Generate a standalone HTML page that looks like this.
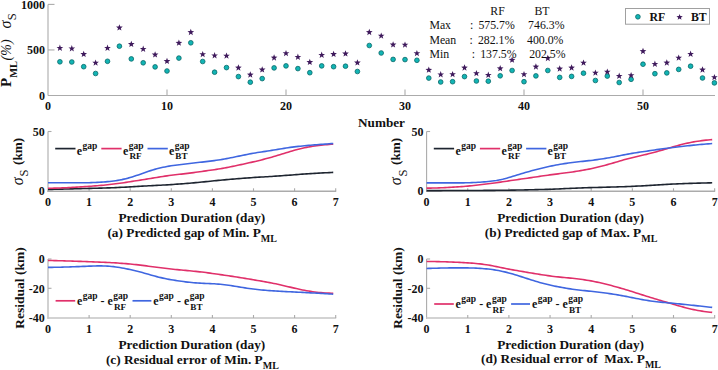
<!DOCTYPE html>
<html><head><meta charset="utf-8"><style>
html,body{margin:0;padding:0;background:#fff;width:718px;height:370px;overflow:hidden}
svg{display:block}
text{fill:#111;white-space:pre}
</style></head><body>
<svg width="718" height="370" viewBox="0 0 718 370"><line x1="48.0" y1="4.4" x2="48.0" y2="95.5" stroke="#ababab" stroke-width="1.1"/>
<line x1="48.0" y1="95.5" x2="715" y2="95.5" stroke="#ababab" stroke-width="1.1"/>
<line x1="48.0" y1="49.95" x2="54.5" y2="49.95" stroke="#ababab" stroke-width="1.1"/>
<line x1="48.0" y1="4.40" x2="54.5" y2="4.40" stroke="#ababab" stroke-width="1.1"/>
<line x1="167.00" y1="89.5" x2="167.00" y2="95.5" stroke="#ababab" stroke-width="1.1"/>
<line x1="286.00" y1="89.5" x2="286.00" y2="95.5" stroke="#ababab" stroke-width="1.1"/>
<line x1="405.00" y1="89.5" x2="405.00" y2="95.5" stroke="#ababab" stroke-width="1.1"/>
<line x1="524.00" y1="89.5" x2="524.00" y2="95.5" stroke="#ababab" stroke-width="1.1"/>
<line x1="643.00" y1="89.5" x2="643.00" y2="95.5" stroke="#ababab" stroke-width="1.1"/>
<text x="45" y="99.70" text-anchor="end" font-family="Liberation Serif" font-weight="bold" font-size="12">0</text>
<text x="45" y="54.15" text-anchor="end" font-family="Liberation Serif" font-weight="bold" font-size="12">500</text>
<text x="45" y="8.60" text-anchor="end" font-family="Liberation Serif" font-weight="bold" font-size="12">1000</text>
<text x="48.00" y="110.3" text-anchor="middle" font-family="Liberation Serif" font-weight="bold" font-size="12">0</text>
<text x="167.00" y="110.3" text-anchor="middle" font-family="Liberation Serif" font-weight="bold" font-size="12">10</text>
<text x="286.00" y="110.3" text-anchor="middle" font-family="Liberation Serif" font-weight="bold" font-size="12">20</text>
<text x="405.00" y="110.3" text-anchor="middle" font-family="Liberation Serif" font-weight="bold" font-size="12">30</text>
<text x="524.00" y="110.3" text-anchor="middle" font-family="Liberation Serif" font-weight="bold" font-size="12">40</text>
<text x="643.00" y="110.3" text-anchor="middle" font-family="Liberation Serif" font-weight="bold" font-size="12">50</text>
<text x="381.5" y="126.5" text-anchor="middle" font-family="Liberation Serif" font-weight="bold" font-size="13.2">Number</text>
<circle cx="59.90" cy="61.8" r="2.35" fill="#12b4b4" stroke="#086868" stroke-width="0.8"/>
<polygon points="59.90,44.60 60.76,46.91 63.23,47.02 61.30,48.55 61.96,50.93 59.90,49.57 57.84,50.93 58.50,48.55 56.57,47.02 59.04,46.91" fill="#3f1a5c"/>
<circle cx="71.80" cy="62.0" r="2.35" fill="#12b4b4" stroke="#086868" stroke-width="0.8"/>
<polygon points="71.80,45.10 72.66,47.41 75.13,47.52 73.20,49.05 73.86,51.43 71.80,50.07 69.74,51.43 70.40,49.05 68.47,47.52 70.94,47.41" fill="#3f1a5c"/>
<circle cx="83.70" cy="66.7" r="2.35" fill="#12b4b4" stroke="#086868" stroke-width="0.8"/>
<polygon points="83.70,50.70 84.56,53.01 87.03,53.12 85.10,54.65 85.76,57.03 83.70,55.67 81.64,57.03 82.30,54.65 80.37,53.12 82.84,53.01" fill="#3f1a5c"/>
<circle cx="95.60" cy="73.5" r="2.35" fill="#12b4b4" stroke="#086868" stroke-width="0.8"/>
<polygon points="95.60,59.40 96.46,61.71 98.93,61.82 97.00,63.35 97.66,65.73 95.60,64.37 93.54,65.73 94.20,63.35 92.27,61.82 94.74,61.71" fill="#3f1a5c"/>
<circle cx="107.50" cy="61.3" r="2.35" fill="#12b4b4" stroke="#086868" stroke-width="0.8"/>
<polygon points="107.50,44.60 108.36,46.91 110.83,47.02 108.90,48.55 109.56,50.93 107.50,49.57 105.44,50.93 106.10,48.55 104.17,47.02 106.64,46.91" fill="#3f1a5c"/>
<circle cx="119.40" cy="46.2" r="2.35" fill="#12b4b4" stroke="#086868" stroke-width="0.8"/>
<polygon points="119.40,24.20 120.26,26.51 122.73,26.62 120.80,28.15 121.46,30.53 119.40,29.17 117.34,30.53 118.00,28.15 116.07,26.62 118.54,26.51" fill="#3f1a5c"/>
<circle cx="131.30" cy="58.9" r="2.35" fill="#12b4b4" stroke="#086868" stroke-width="0.8"/>
<polygon points="131.30,40.70 132.16,43.01 134.63,43.12 132.70,44.65 133.36,47.03 131.30,45.67 129.24,47.03 129.90,44.65 127.97,43.12 130.44,43.01" fill="#3f1a5c"/>
<circle cx="143.20" cy="62.8" r="2.35" fill="#12b4b4" stroke="#086868" stroke-width="0.8"/>
<polygon points="143.20,45.60 144.06,47.91 146.53,48.02 144.60,49.55 145.26,51.93 143.20,50.57 141.14,51.93 141.80,49.55 139.87,48.02 142.34,47.91" fill="#3f1a5c"/>
<circle cx="155.10" cy="66.9" r="2.35" fill="#12b4b4" stroke="#086868" stroke-width="0.8"/>
<polygon points="155.10,51.20 155.96,53.51 158.43,53.62 156.50,55.15 157.16,57.53 155.10,56.17 153.04,57.53 153.70,55.15 151.77,53.62 154.24,53.51" fill="#3f1a5c"/>
<circle cx="167.00" cy="71.0" r="2.35" fill="#12b4b4" stroke="#086868" stroke-width="0.8"/>
<polygon points="167.00,57.70 167.86,60.01 170.33,60.12 168.40,61.65 169.06,64.03 167.00,62.67 164.94,64.03 165.60,61.65 163.67,60.12 166.14,60.01" fill="#3f1a5c"/>
<circle cx="178.90" cy="58.1" r="2.35" fill="#12b4b4" stroke="#086868" stroke-width="0.8"/>
<polygon points="178.90,39.50 179.76,41.81 182.23,41.92 180.30,43.45 180.96,45.83 178.90,44.47 176.84,45.83 177.50,43.45 175.57,41.92 178.04,41.81" fill="#3f1a5c"/>
<circle cx="190.80" cy="42.8" r="2.35" fill="#12b4b4" stroke="#086868" stroke-width="0.8"/>
<polygon points="190.80,28.80 191.66,31.11 194.13,31.22 192.20,32.75 192.86,35.13 190.80,33.77 188.74,35.13 189.40,32.75 187.47,31.22 189.94,31.11" fill="#3f1a5c"/>
<circle cx="202.70" cy="61.5" r="2.35" fill="#12b4b4" stroke="#086868" stroke-width="0.8"/>
<polygon points="202.70,50.90 203.56,53.21 206.03,53.32 204.10,54.85 204.76,57.23 202.70,55.87 200.64,57.23 201.30,54.85 199.37,53.32 201.84,53.21" fill="#3f1a5c"/>
<circle cx="214.60" cy="72.2" r="2.35" fill="#12b4b4" stroke="#086868" stroke-width="0.8"/>
<polygon points="214.60,52.10 215.46,54.41 217.93,54.52 216.00,56.05 216.66,58.43 214.60,57.07 212.54,58.43 213.20,56.05 211.27,54.52 213.74,54.41" fill="#3f1a5c"/>
<circle cx="226.50" cy="67.6" r="2.35" fill="#12b4b4" stroke="#086868" stroke-width="0.8"/>
<polygon points="226.50,52.40 227.36,54.71 229.83,54.82 227.90,56.35 228.56,58.73 226.50,57.37 224.44,58.73 225.10,56.35 223.17,54.82 225.64,54.71" fill="#3f1a5c"/>
<circle cx="238.40" cy="76.6" r="2.35" fill="#12b4b4" stroke="#086868" stroke-width="0.8"/>
<polygon points="238.40,64.30 239.26,66.61 241.73,66.72 239.80,68.25 240.46,70.63 238.40,69.27 236.34,70.63 237.00,68.25 235.07,66.72 237.54,66.61" fill="#3f1a5c"/>
<circle cx="250.30" cy="82.2" r="2.35" fill="#12b4b4" stroke="#086868" stroke-width="0.8"/>
<polygon points="250.30,71.30 251.16,73.61 253.63,73.72 251.70,75.25 252.36,77.63 250.30,76.27 248.24,77.63 248.90,75.25 246.97,73.72 249.44,73.61" fill="#3f1a5c"/>
<circle cx="262.20" cy="78.6" r="2.35" fill="#12b4b4" stroke="#086868" stroke-width="0.8"/>
<polygon points="262.20,66.20 263.06,68.51 265.53,68.62 263.60,70.15 264.26,72.53 262.20,71.17 260.14,72.53 260.80,70.15 258.87,68.62 261.34,68.51" fill="#3f1a5c"/>
<circle cx="274.10" cy="67.9" r="2.35" fill="#12b4b4" stroke="#086868" stroke-width="0.8"/>
<polygon points="274.10,54.30 274.96,56.61 277.43,56.72 275.50,58.25 276.16,60.63 274.10,59.27 272.04,60.63 272.70,58.25 270.77,56.72 273.24,56.61" fill="#3f1a5c"/>
<circle cx="286.00" cy="65.9" r="2.35" fill="#12b4b4" stroke="#086868" stroke-width="0.8"/>
<polygon points="286.00,49.90 286.86,52.21 289.33,52.32 287.40,53.85 288.06,56.23 286.00,54.87 283.94,56.23 284.60,53.85 282.67,52.32 285.14,52.21" fill="#3f1a5c"/>
<circle cx="297.90" cy="68.6" r="2.35" fill="#12b4b4" stroke="#086868" stroke-width="0.8"/>
<polygon points="297.90,53.60 298.76,55.91 301.23,56.02 299.30,57.55 299.96,59.93 297.90,58.57 295.84,59.93 296.50,57.55 294.57,56.02 297.04,55.91" fill="#3f1a5c"/>
<circle cx="309.80" cy="72.7" r="2.35" fill="#12b4b4" stroke="#086868" stroke-width="0.8"/>
<polygon points="309.80,58.70 310.66,61.01 313.13,61.12 311.20,62.65 311.86,65.03 309.80,63.67 307.74,65.03 308.40,62.65 306.47,61.12 308.94,61.01" fill="#3f1a5c"/>
<circle cx="321.70" cy="65.9" r="2.35" fill="#12b4b4" stroke="#086868" stroke-width="0.8"/>
<polygon points="321.70,51.60 322.56,53.91 325.03,54.02 323.10,55.55 323.76,57.93 321.70,56.57 319.64,57.93 320.30,55.55 318.37,54.02 320.84,53.91" fill="#3f1a5c"/>
<circle cx="333.60" cy="66.7" r="2.35" fill="#12b4b4" stroke="#086868" stroke-width="0.8"/>
<polygon points="333.60,50.70 334.46,53.01 336.93,53.12 335.00,54.65 335.66,57.03 333.60,55.67 331.54,57.03 332.20,54.65 330.27,53.12 332.74,53.01" fill="#3f1a5c"/>
<circle cx="345.50" cy="66.2" r="2.35" fill="#12b4b4" stroke="#086868" stroke-width="0.8"/>
<polygon points="345.50,50.20 346.36,52.51 348.83,52.62 346.90,54.15 347.56,56.53 345.50,55.17 343.44,56.53 344.10,54.15 342.17,52.62 344.64,52.51" fill="#3f1a5c"/>
<circle cx="357.40" cy="71.5" r="2.35" fill="#12b4b4" stroke="#086868" stroke-width="0.8"/>
<polygon points="357.40,59.20 358.26,61.51 360.73,61.62 358.80,63.15 359.46,65.53 357.40,64.17 355.34,65.53 356.00,63.15 354.07,61.62 356.54,61.51" fill="#3f1a5c"/>
<circle cx="369.30" cy="45.5" r="2.35" fill="#12b4b4" stroke="#086868" stroke-width="0.8"/>
<polygon points="369.30,28.80 370.16,31.11 372.63,31.22 370.70,32.75 371.36,35.13 369.30,33.77 367.24,35.13 367.90,32.75 365.97,31.22 368.44,31.11" fill="#3f1a5c"/>
<circle cx="381.20" cy="53.0" r="2.35" fill="#12b4b4" stroke="#086868" stroke-width="0.8"/>
<polygon points="381.20,32.40 382.06,34.71 384.53,34.82 382.60,36.35 383.26,38.73 381.20,37.37 379.14,38.73 379.80,36.35 377.87,34.82 380.34,34.71" fill="#3f1a5c"/>
<circle cx="393.10" cy="59.4" r="2.35" fill="#12b4b4" stroke="#086868" stroke-width="0.8"/>
<polygon points="393.10,41.20 393.96,43.51 396.43,43.62 394.50,45.15 395.16,47.53 393.10,46.17 391.04,47.53 391.70,45.15 389.77,43.62 392.24,43.51" fill="#3f1a5c"/>
<circle cx="405.00" cy="59.6" r="2.35" fill="#12b4b4" stroke="#086868" stroke-width="0.8"/>
<polygon points="405.00,41.40 405.86,43.71 408.33,43.82 406.40,45.35 407.06,47.73 405.00,46.37 402.94,47.73 403.60,45.35 401.67,43.82 404.14,43.71" fill="#3f1a5c"/>
<circle cx="416.90" cy="60.3" r="2.35" fill="#12b4b4" stroke="#086868" stroke-width="0.8"/>
<polygon points="416.90,49.90 417.76,52.21 420.23,52.32 418.30,53.85 418.96,56.23 416.90,54.87 414.84,56.23 415.50,53.85 413.57,52.32 416.04,52.21" fill="#3f1a5c"/>
<circle cx="428.80" cy="78.1" r="2.35" fill="#12b4b4" stroke="#086868" stroke-width="0.8"/>
<polygon points="428.80,66.50 429.66,68.81 432.13,68.92 430.20,70.45 430.86,72.83 428.80,71.47 426.74,72.83 427.40,70.45 425.47,68.92 427.94,68.81" fill="#3f1a5c"/>
<circle cx="440.70" cy="82.0" r="2.35" fill="#12b4b4" stroke="#086868" stroke-width="0.8"/>
<polygon points="440.70,71.10 441.56,73.41 444.03,73.52 442.10,75.05 442.76,77.43 440.70,76.07 438.64,77.43 439.30,75.05 437.37,73.52 439.84,73.41" fill="#3f1a5c"/>
<circle cx="452.60" cy="81.7" r="2.35" fill="#12b4b4" stroke="#086868" stroke-width="0.8"/>
<polygon points="452.60,70.90 453.46,73.21 455.93,73.32 454.00,74.85 454.66,77.23 452.60,75.87 450.54,77.23 451.20,74.85 449.27,73.32 451.74,73.21" fill="#3f1a5c"/>
<circle cx="464.50" cy="76.6" r="2.35" fill="#12b4b4" stroke="#086868" stroke-width="0.8"/>
<polygon points="464.50,64.30 465.36,66.61 467.83,66.72 465.90,68.25 466.56,70.63 464.50,69.27 462.44,70.63 463.10,68.25 461.17,66.72 463.64,66.61" fill="#3f1a5c"/>
<circle cx="476.40" cy="81.0" r="2.35" fill="#12b4b4" stroke="#086868" stroke-width="0.8"/>
<polygon points="476.40,69.90 477.26,72.21 479.73,72.32 477.80,73.85 478.46,76.23 476.40,74.87 474.34,76.23 475.00,73.85 473.07,72.32 475.54,72.21" fill="#3f1a5c"/>
<circle cx="488.30" cy="81.2" r="2.35" fill="#12b4b4" stroke="#086868" stroke-width="0.8"/>
<polygon points="488.30,71.60 489.16,73.91 491.63,74.02 489.70,75.55 490.36,77.93 488.30,76.57 486.24,77.93 486.90,75.55 484.97,74.02 487.44,73.91" fill="#3f1a5c"/>
<circle cx="500.20" cy="75.8" r="2.35" fill="#12b4b4" stroke="#086868" stroke-width="0.8"/>
<polygon points="500.20,65.00 501.06,67.31 503.53,67.42 501.60,68.95 502.26,71.33 500.20,69.97 498.14,71.33 498.80,68.95 496.87,67.42 499.34,67.31" fill="#3f1a5c"/>
<circle cx="512.10" cy="70.5" r="2.35" fill="#12b4b4" stroke="#086868" stroke-width="0.8"/>
<polygon points="512.10,56.50 512.96,58.81 515.43,58.92 513.50,60.45 514.16,62.83 512.10,61.47 510.04,62.83 510.70,60.45 508.77,58.92 511.24,58.81" fill="#3f1a5c"/>
<circle cx="524.00" cy="81.7" r="2.35" fill="#12b4b4" stroke="#086868" stroke-width="0.8"/>
<polygon points="524.00,70.90 524.86,73.21 527.33,73.32 525.40,74.85 526.06,77.23 524.00,75.87 521.94,77.23 522.60,74.85 520.67,73.32 523.14,73.21" fill="#3f1a5c"/>
<circle cx="535.90" cy="75.9" r="2.35" fill="#12b4b4" stroke="#086868" stroke-width="0.8"/>
<polygon points="535.90,63.30 536.76,65.61 539.23,65.72 537.30,67.25 537.96,69.63 535.90,68.27 533.84,69.63 534.50,67.25 532.57,65.72 535.04,65.61" fill="#3f1a5c"/>
<circle cx="547.80" cy="70.5" r="2.35" fill="#12b4b4" stroke="#086868" stroke-width="0.8"/>
<polygon points="547.80,54.80 548.66,57.11 551.13,57.22 549.20,58.75 549.86,61.13 547.80,59.77 545.74,61.13 546.40,58.75 544.47,57.22 546.94,57.11" fill="#3f1a5c"/>
<circle cx="559.70" cy="77.4" r="2.35" fill="#12b4b4" stroke="#086868" stroke-width="0.8"/>
<polygon points="559.70,65.30 560.56,67.61 563.03,67.72 561.10,69.25 561.76,71.63 559.70,70.27 557.64,71.63 558.30,69.25 556.37,67.72 558.84,67.61" fill="#3f1a5c"/>
<circle cx="571.60" cy="76.4" r="2.35" fill="#12b4b4" stroke="#086868" stroke-width="0.8"/>
<polygon points="571.60,64.30 572.46,66.61 574.93,66.72 573.00,68.25 573.66,70.63 571.60,69.27 569.54,70.63 570.20,68.25 568.27,66.72 570.74,66.61" fill="#3f1a5c"/>
<circle cx="583.50" cy="73.2" r="2.35" fill="#12b4b4" stroke="#086868" stroke-width="0.8"/>
<polygon points="583.50,59.40 584.36,61.71 586.83,61.82 584.90,63.35 585.56,65.73 583.50,64.37 581.44,65.73 582.10,63.35 580.17,61.82 582.64,61.71" fill="#3f1a5c"/>
<circle cx="595.40" cy="80.5" r="2.35" fill="#12b4b4" stroke="#086868" stroke-width="0.8"/>
<polygon points="595.40,69.40 596.26,71.71 598.73,71.82 596.80,73.35 597.46,75.73 595.40,74.37 593.34,75.73 594.00,73.35 592.07,71.82 594.54,71.71" fill="#3f1a5c"/>
<circle cx="607.30" cy="76.1" r="2.35" fill="#12b4b4" stroke="#086868" stroke-width="0.8"/>
<polygon points="607.30,68.40 608.16,70.71 610.63,70.82 608.70,72.35 609.36,74.73 607.30,73.37 605.24,74.73 605.90,72.35 603.97,70.82 606.44,70.71" fill="#3f1a5c"/>
<circle cx="619.20" cy="82.5" r="2.35" fill="#12b4b4" stroke="#086868" stroke-width="0.8"/>
<polygon points="619.20,72.60 620.06,74.91 622.53,75.02 620.60,76.55 621.26,78.93 619.20,77.57 617.14,78.93 617.80,76.55 615.87,75.02 618.34,74.91" fill="#3f1a5c"/>
<circle cx="631.10" cy="79.3" r="2.35" fill="#12b4b4" stroke="#086868" stroke-width="0.8"/>
<polygon points="631.10,71.90 631.96,74.21 634.43,74.32 632.50,75.85 633.16,78.23 631.10,76.87 629.04,78.23 629.70,75.85 627.77,74.32 630.24,74.21" fill="#3f1a5c"/>
<circle cx="643.00" cy="64.2" r="2.35" fill="#12b4b4" stroke="#086868" stroke-width="0.8"/>
<polygon points="643.00,47.80 643.86,50.11 646.33,50.22 644.40,51.75 645.06,54.13 643.00,52.77 640.94,54.13 641.60,51.75 639.67,50.22 642.14,50.11" fill="#3f1a5c"/>
<circle cx="654.90" cy="73.7" r="2.35" fill="#12b4b4" stroke="#086868" stroke-width="0.8"/>
<polygon points="654.90,60.60 655.76,62.91 658.23,63.02 656.30,64.55 656.96,66.93 654.90,65.57 652.84,66.93 653.50,64.55 651.57,63.02 654.04,62.91" fill="#3f1a5c"/>
<circle cx="666.80" cy="72.9" r="2.35" fill="#12b4b4" stroke="#086868" stroke-width="0.8"/>
<polygon points="666.80,59.30 667.66,61.61 670.13,61.72 668.20,63.25 668.86,65.63 666.80,64.27 664.74,65.63 665.40,63.25 663.47,61.72 665.94,61.61" fill="#3f1a5c"/>
<circle cx="678.70" cy="69.4" r="2.35" fill="#12b4b4" stroke="#086868" stroke-width="0.8"/>
<polygon points="678.70,54.40 679.56,56.71 682.03,56.82 680.10,58.35 680.76,60.73 678.70,59.37 676.64,60.73 677.30,58.35 675.37,56.82 677.84,56.71" fill="#3f1a5c"/>
<circle cx="690.60" cy="66.2" r="2.35" fill="#12b4b4" stroke="#086868" stroke-width="0.8"/>
<polygon points="690.60,50.60 691.46,52.91 693.93,53.02 692.00,54.55 692.66,56.93 690.60,55.57 688.54,56.93 689.20,54.55 687.27,53.02 689.74,52.91" fill="#3f1a5c"/>
<circle cx="702.50" cy="78.0" r="2.35" fill="#12b4b4" stroke="#086868" stroke-width="0.8"/>
<polygon points="702.50,66.30 703.36,68.61 705.83,68.72 703.90,70.25 704.56,72.63 702.50,71.27 700.44,72.63 701.10,70.25 699.17,68.72 701.64,68.61" fill="#3f1a5c"/>
<circle cx="714.40" cy="82.9" r="2.35" fill="#12b4b4" stroke="#086868" stroke-width="0.8"/>
<polygon points="714.40,73.90 715.26,76.21 717.73,76.32 715.80,77.85 716.46,80.23 714.40,78.87 712.34,80.23 713.00,77.85 711.07,76.32 713.54,76.21" fill="#3f1a5c"/>
<text transform="translate(11,87) rotate(-90)" font-family="Liberation Serif" font-size="15"><tspan font-weight="bold">P</tspan><tspan font-weight="bold" font-size="10.5" dy="6">ML</tspan><tspan dy="-6" dx="0.5" font-size="14" font-style="italic">(%)</tspan></text>
<text transform="translate(10.6,28.4) rotate(-90)" font-family="Liberation Serif" font-style="italic" font-size="16">σ</text>
<text transform="translate(16.0,20.2) rotate(-90)" font-family="Liberation Serif" font-size="12.5">S</text>
<text x="497.5" y="14.5" text-anchor="middle" font-family="Liberation Serif" font-size="11.8" fill="#111">RF</text>
<text x="542" y="14.5" text-anchor="middle" font-family="Liberation Serif" font-size="11.8" fill="#111">BT</text>
<text x="429.4" y="29.4" font-family="Liberation Serif" font-size="11.8" fill="#111">Max</text>
<text x="470.1" y="29.4" font-family="Liberation Serif" font-size="11.8" fill="#111">:</text>
<text x="478.4" y="29.4" font-family="Liberation Serif" font-size="11.8" fill="#111">575.7%</text>
<text x="528.1" y="29.4" font-family="Liberation Serif" font-size="11.8" fill="#111">746.3%</text>
<text x="429.4" y="43.5" font-family="Liberation Serif" font-size="11.8" fill="#111">Mean</text>
<text x="469.5" y="43.5" font-family="Liberation Serif" font-size="11.8" fill="#111">:</text>
<text x="477.9" y="43.5" font-family="Liberation Serif" font-size="11.8" fill="#111">282.1%</text>
<text x="527" y="43.5" font-family="Liberation Serif" font-size="11.8" fill="#111">400.0%</text>
<text x="429.4" y="57.5" font-family="Liberation Serif" font-size="11.8" fill="#111">Min</text>
<text x="471.7" y="57.5" font-family="Liberation Serif" font-size="11.8" fill="#111">:</text>
<text x="480.2" y="57.5" font-family="Liberation Serif" font-size="11.8" fill="#111">137.5%</text>
<text x="529.2" y="57.5" font-family="Liberation Serif" font-size="11.8" fill="#111">202.5%</text>
<rect x="625.5" y="8.5" width="84" height="15.7" fill="#fff" stroke="#a0a0a0" stroke-width="1"/>
<circle cx="637.9" cy="16.8" r="2.35" fill="#12b4b4" stroke="#086868" stroke-width="0.8"/>
<text x="649.5" y="20.8" font-family="Liberation Serif" font-weight="bold" font-size="11.8">RF</text>
<polygon points="679.60,13.90 680.41,16.08 682.74,16.18 680.92,17.63 681.54,19.87 679.60,18.59 677.66,19.87 678.28,17.63 676.46,16.18 678.79,16.08" fill="#3f1a5c"/>
<text x="691" y="20.8" font-family="Liberation Serif" font-weight="bold" font-size="11.8">BT</text>
<line x1="48" y1="131.5" x2="48" y2="192.00" stroke="#ababab" stroke-width="1.1"/>
<line x1="47.45" y1="191.3" x2="336.20" y2="191.3" stroke="#ababab" stroke-width="1.4"/>
<line x1="48" y1="131.5" x2="51.5" y2="131.5" stroke="#ababab" stroke-width="1.1"/>
<text x="44.8" y="135.70" text-anchor="end" font-family="Liberation Serif" font-weight="bold" font-size="12">50</text>
<text x="44.8" y="195.00" text-anchor="end" font-family="Liberation Serif" font-weight="bold" font-size="12">0</text>
<text x="48.00" y="206.30" text-anchor="middle" font-family="Liberation Serif" font-weight="bold" font-size="12">0</text>
<line x1="89.10" y1="188.3" x2="89.10" y2="191.3" stroke="#ababab" stroke-width="1.1"/>
<text x="89.10" y="206.30" text-anchor="middle" font-family="Liberation Serif" font-weight="bold" font-size="12">1</text>
<line x1="130.20" y1="188.3" x2="130.20" y2="191.3" stroke="#ababab" stroke-width="1.1"/>
<text x="130.20" y="206.30" text-anchor="middle" font-family="Liberation Serif" font-weight="bold" font-size="12">2</text>
<line x1="171.30" y1="188.3" x2="171.30" y2="191.3" stroke="#ababab" stroke-width="1.1"/>
<text x="171.30" y="206.30" text-anchor="middle" font-family="Liberation Serif" font-weight="bold" font-size="12">3</text>
<line x1="212.40" y1="188.3" x2="212.40" y2="191.3" stroke="#ababab" stroke-width="1.1"/>
<text x="212.40" y="206.30" text-anchor="middle" font-family="Liberation Serif" font-weight="bold" font-size="12">4</text>
<line x1="253.50" y1="188.3" x2="253.50" y2="191.3" stroke="#ababab" stroke-width="1.1"/>
<text x="253.50" y="206.30" text-anchor="middle" font-family="Liberation Serif" font-weight="bold" font-size="12">5</text>
<line x1="294.60" y1="188.3" x2="294.60" y2="191.3" stroke="#ababab" stroke-width="1.1"/>
<text x="294.60" y="206.30" text-anchor="middle" font-family="Liberation Serif" font-weight="bold" font-size="12">6</text>
<line x1="335.70" y1="188.3" x2="335.70" y2="191.3" stroke="#ababab" stroke-width="1.1"/>
<text x="335.70" y="206.30" text-anchor="middle" font-family="Liberation Serif" font-weight="bold" font-size="12">7</text>
<path d="M48.00,189.42 L50.05,189.39 L52.10,189.35 L54.16,189.31 L56.21,189.27 L58.26,189.22 L60.31,189.17 L62.36,189.12 L64.42,189.07 L66.47,189.02 L68.52,188.96 L70.57,188.91 L72.62,188.85 L74.68,188.80 L76.73,188.74 L78.78,188.68 L80.83,188.63 L82.88,188.57 L84.94,188.52 L86.99,188.46 L89.04,188.41 L91.09,188.35 L93.14,188.30 L95.20,188.25 L97.25,188.19 L99.30,188.14 L101.35,188.08 L103.41,188.02 L105.46,187.96 L107.51,187.90 L109.56,187.84 L111.61,187.76 L113.67,187.69 L115.72,187.60 L117.77,187.51 L119.82,187.41 L121.87,187.31 L123.93,187.20 L125.98,187.08 L128.03,186.96 L130.08,186.84 L132.13,186.72 L134.19,186.60 L136.24,186.48 L138.29,186.36 L140.34,186.25 L142.39,186.14 L144.45,186.03 L146.50,185.93 L148.55,185.82 L150.60,185.72 L152.65,185.61 L154.71,185.51 L156.76,185.40 L158.81,185.29 L160.86,185.18 L162.91,185.07 L164.97,184.95 L167.02,184.83 L169.07,184.70 L171.12,184.58 L173.17,184.45 L175.23,184.31 L177.28,184.17 L179.33,184.03 L181.38,183.88 L183.43,183.72 L185.49,183.56 L187.54,183.40 L189.59,183.23 L191.64,183.05 L193.70,182.86 L195.75,182.67 L197.80,182.48 L199.85,182.28 L201.90,182.07 L203.96,181.86 L206.01,181.65 L208.06,181.44 L210.11,181.22 L212.16,181.01 L214.22,180.81 L216.27,180.60 L218.32,180.40 L220.37,180.21 L222.42,180.02 L224.48,179.83 L226.53,179.64 L228.58,179.46 L230.63,179.29 L232.68,179.11 L234.74,178.94 L236.79,178.77 L238.84,178.60 L240.89,178.44 L242.94,178.28 L245.00,178.13 L247.05,177.98 L249.10,177.83 L251.15,177.69 L253.20,177.55 L255.26,177.42 L257.31,177.30 L259.36,177.17 L261.41,177.05 L263.46,176.93 L265.52,176.81 L267.57,176.69 L269.62,176.57 L271.67,176.43 L273.72,176.30 L275.78,176.16 L277.83,176.02 L279.88,175.87 L281.93,175.72 L283.98,175.56 L286.04,175.41 L288.09,175.25 L290.14,175.09 L292.19,174.93 L294.25,174.77 L296.30,174.62 L298.35,174.46 L300.40,174.31 L302.45,174.15 L304.51,174.01 L306.56,173.86 L308.61,173.72 L310.66,173.59 L312.71,173.46 L314.77,173.34 L316.82,173.22 L318.87,173.10 L320.92,172.99 L322.97,172.88 L325.03,172.78 L327.08,172.68 L329.13,172.58 L331.18,172.49 L333.23,172.40" fill="none" stroke="#1e2530" stroke-width="1.6" stroke-linejoin="round"/>
<path d="M48.00,188.30 L50.05,188.27 L52.10,188.22 L54.16,188.17 L56.21,188.11 L58.26,188.04 L60.31,187.96 L62.36,187.88 L64.42,187.79 L66.47,187.70 L68.52,187.60 L70.57,187.49 L72.62,187.38 L74.68,187.27 L76.73,187.15 L78.78,187.03 L80.83,186.90 L82.88,186.78 L84.94,186.64 L86.99,186.50 L89.04,186.36 L91.09,186.21 L93.14,186.06 L95.20,185.90 L97.25,185.73 L99.30,185.55 L101.35,185.37 L103.41,185.18 L105.46,184.98 L107.51,184.77 L109.56,184.55 L111.61,184.31 L113.67,184.07 L115.72,183.82 L117.77,183.55 L119.82,183.27 L121.87,182.98 L123.93,182.68 L125.98,182.37 L128.03,182.06 L130.08,181.73 L132.13,181.41 L134.19,181.08 L136.24,180.76 L138.29,180.43 L140.34,180.10 L142.39,179.77 L144.45,179.45 L146.50,179.12 L148.55,178.79 L150.60,178.45 L152.65,178.12 L154.71,177.78 L156.76,177.45 L158.81,177.11 L160.86,176.78 L162.91,176.46 L164.97,176.15 L167.02,175.85 L169.07,175.56 L171.12,175.29 L173.17,175.03 L175.23,174.78 L177.28,174.54 L179.33,174.31 L181.38,174.09 L183.43,173.86 L185.49,173.63 L187.54,173.39 L189.59,173.14 L191.64,172.87 L193.70,172.60 L195.75,172.31 L197.80,172.02 L199.85,171.73 L201.90,171.43 L203.96,171.14 L206.01,170.86 L208.06,170.58 L210.11,170.29 L212.16,170.00 L214.22,169.70 L216.27,169.39 L218.32,169.07 L220.37,168.72 L222.42,168.36 L224.48,167.99 L226.53,167.60 L228.58,167.19 L230.63,166.78 L232.68,166.36 L234.74,165.94 L236.79,165.51 L238.84,165.08 L240.89,164.64 L242.94,164.19 L245.00,163.75 L247.05,163.29 L249.10,162.83 L251.15,162.37 L253.20,161.89 L255.26,161.41 L257.31,160.92 L259.36,160.42 L261.41,159.91 L263.46,159.39 L265.52,158.85 L267.57,158.30 L269.62,157.74 L271.67,157.16 L273.72,156.56 L275.78,155.95 L277.83,155.33 L279.88,154.69 L281.93,154.05 L283.98,153.41 L286.04,152.78 L288.09,152.15 L290.14,151.53 L292.19,150.93 L294.25,150.34 L296.30,149.78 L298.35,149.24 L300.40,148.73 L302.45,148.25 L304.51,147.79 L306.56,147.36 L308.61,146.97 L310.66,146.60 L312.71,146.26 L314.77,145.95 L316.82,145.67 L318.87,145.41 L320.92,145.17 L322.97,144.96 L325.03,144.77 L327.08,144.60 L329.13,144.44 L331.18,144.31 L333.23,144.20" fill="none" stroke="#e0306a" stroke-width="1.6" stroke-linejoin="round"/>
<path d="M48.00,182.80 L50.05,182.80 L52.10,182.80 L54.16,182.80 L56.21,182.80 L58.26,182.80 L60.31,182.80 L62.36,182.80 L64.42,182.80 L66.47,182.80 L68.52,182.80 L70.57,182.80 L72.62,182.80 L74.68,182.80 L76.73,182.79 L78.78,182.79 L80.83,182.78 L82.88,182.77 L84.94,182.75 L86.99,182.72 L89.04,182.68 L91.09,182.63 L93.14,182.56 L95.20,182.48 L97.25,182.39 L99.30,182.27 L101.35,182.15 L103.41,182.00 L105.46,181.84 L107.51,181.65 L109.56,181.45 L111.61,181.23 L113.67,180.97 L115.72,180.68 L117.77,180.36 L119.82,180.00 L121.87,179.60 L123.93,179.15 L125.98,178.66 L128.03,178.13 L130.08,177.55 L132.13,176.94 L134.19,176.29 L136.24,175.61 L138.29,174.91 L140.34,174.19 L142.39,173.46 L144.45,172.72 L146.50,172.00 L148.55,171.30 L150.60,170.62 L152.65,169.98 L154.71,169.37 L156.76,168.81 L158.81,168.28 L160.86,167.79 L162.91,167.34 L164.97,166.91 L167.02,166.52 L169.07,166.16 L171.12,165.83 L173.17,165.51 L175.23,165.22 L177.28,164.94 L179.33,164.68 L181.38,164.44 L183.43,164.19 L185.49,163.96 L187.54,163.72 L189.59,163.49 L191.64,163.26 L193.70,163.02 L195.75,162.78 L197.80,162.55 L199.85,162.31 L201.90,162.08 L203.96,161.84 L206.01,161.61 L208.06,161.37 L210.11,161.12 L212.16,160.86 L214.22,160.59 L216.27,160.31 L218.32,160.01 L220.37,159.68 L222.42,159.34 L224.48,158.98 L226.53,158.61 L228.58,158.22 L230.63,157.82 L232.68,157.41 L234.74,156.99 L236.79,156.57 L238.84,156.14 L240.89,155.71 L242.94,155.28 L245.00,154.85 L247.05,154.44 L249.10,154.03 L251.15,153.65 L253.20,153.27 L255.26,152.92 L257.31,152.58 L259.36,152.26 L261.41,151.95 L263.46,151.64 L265.52,151.34 L267.57,151.03 L269.62,150.72 L271.67,150.39 L273.72,150.06 L275.78,149.73 L277.83,149.38 L279.88,149.03 L281.93,148.69 L283.98,148.35 L286.04,148.02 L288.09,147.70 L290.14,147.41 L292.19,147.13 L294.25,146.87 L296.30,146.62 L298.35,146.40 L300.40,146.18 L302.45,145.98 L304.51,145.79 L306.56,145.60 L308.61,145.42 L310.66,145.24 L312.71,145.07 L314.77,144.90 L316.82,144.73 L318.87,144.57 L320.92,144.40 L322.97,144.24 L325.03,144.09 L327.08,143.93 L329.13,143.78 L331.18,143.63 L333.23,143.48" fill="none" stroke="#3f66e0" stroke-width="1.6" stroke-linejoin="round"/>
<text x="191.85" y="222.10" text-anchor="middle" font-family="Liberation Serif" font-weight="bold" font-size="13.3">Prediction Duration (day)</text>
<text x="192.2" y="236.9" text-anchor="middle" font-family="Liberation Serif" font-weight="bold" font-size="13.3">(a) Predicted gap of Min. P<tspan font-size="10" dy="5">ML</tspan></text>
<text transform="translate(21.50,164.9) rotate(-90)" font-family="Liberation Serif" font-weight="bold" font-size="13.2">(km)</text><text transform="translate(22.60,185.2) rotate(-90)" font-family="Liberation Serif" font-style="italic" font-size="16">σ</text><text transform="translate(28.40,176.4) rotate(-90)" font-family="Liberation Serif" font-size="12.5">S</text>
<line x1="55.20" y1="148.6" x2="75.50" y2="148.6" stroke="#1e2530" stroke-width="1.7"/><text x="76.8" y="154.5" font-family="Liberation Serif" font-weight="bold" font-size="12">e</text><text x="82.60" y="148.80" font-family="Liberation Serif" font-weight="bold" font-size="9.5">gap</text><line x1="101.30" y1="148.6" x2="121.60" y2="148.6" stroke="#e0306a" stroke-width="1.7"/><text x="123.0" y="154.5" font-family="Liberation Serif" font-weight="bold" font-size="12">e</text><text x="128.80" y="148.80" font-family="Liberation Serif" font-weight="bold" font-size="9.5">gap</text><text x="129.40" y="159.30" font-family="Liberation Serif" font-weight="bold" font-size="9.2">RF</text><line x1="147.50" y1="148.6" x2="167.80" y2="148.6" stroke="#3f66e0" stroke-width="1.7"/><text x="168.9" y="154.5" font-family="Liberation Serif" font-weight="bold" font-size="12">e</text><text x="174.70" y="148.80" font-family="Liberation Serif" font-weight="bold" font-size="9.5">gap</text><text x="175.30" y="159.30" font-family="Liberation Serif" font-weight="bold" font-size="9.2">BT</text>
<line x1="426.6" y1="131.5" x2="426.6" y2="192.00" stroke="#ababab" stroke-width="1.1"/>
<line x1="426.05" y1="191.3" x2="715.15" y2="191.3" stroke="#ababab" stroke-width="1.4"/>
<line x1="426.6" y1="131.5" x2="430.1" y2="131.5" stroke="#ababab" stroke-width="1.1"/>
<text x="423.40000000000003" y="135.70" text-anchor="end" font-family="Liberation Serif" font-weight="bold" font-size="12">50</text>
<text x="423.40000000000003" y="195.00" text-anchor="end" font-family="Liberation Serif" font-weight="bold" font-size="12">0</text>
<text x="426.60" y="206.30" text-anchor="middle" font-family="Liberation Serif" font-weight="bold" font-size="12">0</text>
<line x1="467.75" y1="188.3" x2="467.75" y2="191.3" stroke="#ababab" stroke-width="1.1"/>
<text x="467.75" y="206.30" text-anchor="middle" font-family="Liberation Serif" font-weight="bold" font-size="12">1</text>
<line x1="508.90" y1="188.3" x2="508.90" y2="191.3" stroke="#ababab" stroke-width="1.1"/>
<text x="508.90" y="206.30" text-anchor="middle" font-family="Liberation Serif" font-weight="bold" font-size="12">2</text>
<line x1="550.05" y1="188.3" x2="550.05" y2="191.3" stroke="#ababab" stroke-width="1.1"/>
<text x="550.05" y="206.30" text-anchor="middle" font-family="Liberation Serif" font-weight="bold" font-size="12">3</text>
<line x1="591.20" y1="188.3" x2="591.20" y2="191.3" stroke="#ababab" stroke-width="1.1"/>
<text x="591.20" y="206.30" text-anchor="middle" font-family="Liberation Serif" font-weight="bold" font-size="12">4</text>
<line x1="632.35" y1="188.3" x2="632.35" y2="191.3" stroke="#ababab" stroke-width="1.1"/>
<text x="632.35" y="206.30" text-anchor="middle" font-family="Liberation Serif" font-weight="bold" font-size="12">5</text>
<line x1="673.50" y1="188.3" x2="673.50" y2="191.3" stroke="#ababab" stroke-width="1.1"/>
<text x="673.50" y="206.30" text-anchor="middle" font-family="Liberation Serif" font-weight="bold" font-size="12">6</text>
<line x1="714.65" y1="188.3" x2="714.65" y2="191.3" stroke="#ababab" stroke-width="1.1"/>
<text x="714.65" y="206.30" text-anchor="middle" font-family="Liberation Serif" font-weight="bold" font-size="12">7</text>
<path d="M426.60,190.60 L428.65,190.60 L430.71,190.59 L432.76,190.59 L434.82,190.59 L436.87,190.59 L438.93,190.58 L440.98,190.58 L443.04,190.57 L445.09,190.57 L447.15,190.56 L449.20,190.56 L451.25,190.55 L453.31,190.55 L455.36,190.54 L457.42,190.53 L459.47,190.53 L461.53,190.52 L463.58,190.51 L465.64,190.51 L467.69,190.50 L469.75,190.49 L471.80,190.48 L473.85,190.47 L475.91,190.46 L477.96,190.45 L480.02,190.44 L482.07,190.43 L484.13,190.41 L486.18,190.40 L488.24,190.39 L490.29,190.37 L492.35,190.36 L494.40,190.34 L496.45,190.32 L498.51,190.30 L500.56,190.28 L502.62,190.26 L504.67,190.24 L506.73,190.21 L508.78,190.18 L510.84,190.15 L512.89,190.12 L514.95,190.09 L517.00,190.06 L519.05,190.02 L521.11,189.98 L523.16,189.95 L525.22,189.90 L527.27,189.86 L529.33,189.82 L531.38,189.77 L533.44,189.72 L535.49,189.67 L537.55,189.62 L539.60,189.57 L541.65,189.52 L543.71,189.46 L545.76,189.40 L547.82,189.33 L549.87,189.26 L551.93,189.19 L553.98,189.11 L556.04,189.03 L558.09,188.94 L560.15,188.85 L562.20,188.76 L564.25,188.66 L566.31,188.56 L568.36,188.47 L570.42,188.37 L572.47,188.28 L574.53,188.19 L576.58,188.10 L578.64,188.02 L580.69,187.94 L582.75,187.87 L584.80,187.80 L586.85,187.74 L588.91,187.67 L590.96,187.61 L593.02,187.56 L595.07,187.50 L597.13,187.44 L599.18,187.39 L601.24,187.33 L603.29,187.28 L605.34,187.22 L607.40,187.17 L609.45,187.11 L611.51,187.06 L613.56,187.00 L615.62,186.94 L617.67,186.88 L619.73,186.82 L621.78,186.75 L623.84,186.68 L625.89,186.61 L627.94,186.53 L630.00,186.45 L632.05,186.36 L634.11,186.27 L636.16,186.17 L638.22,186.06 L640.27,185.95 L642.33,185.84 L644.38,185.72 L646.44,185.60 L648.49,185.48 L650.54,185.36 L652.60,185.23 L654.65,185.11 L656.71,184.98 L658.76,184.85 L660.82,184.73 L662.87,184.61 L664.93,184.49 L666.98,184.37 L669.04,184.27 L671.09,184.16 L673.14,184.06 L675.20,183.96 L677.25,183.87 L679.31,183.78 L681.36,183.70 L683.42,183.62 L685.47,183.54 L687.53,183.47 L689.58,183.40 L691.64,183.33 L693.69,183.26 L695.74,183.20 L697.80,183.14 L699.85,183.08 L701.91,183.03 L703.96,182.98 L706.02,182.94 L708.07,182.89 L710.13,182.85 L712.18,182.81" fill="none" stroke="#1e2530" stroke-width="1.6" stroke-linejoin="round"/>
<path d="M426.60,188.14 L428.65,188.12 L430.71,188.08 L432.76,188.04 L434.82,187.99 L436.87,187.93 L438.93,187.86 L440.98,187.79 L443.04,187.70 L445.09,187.61 L447.15,187.50 L449.20,187.39 L451.25,187.28 L453.31,187.15 L455.36,187.03 L457.42,186.89 L459.47,186.75 L461.53,186.60 L463.58,186.44 L465.64,186.28 L467.69,186.10 L469.75,185.91 L471.80,185.71 L473.85,185.50 L475.91,185.28 L477.96,185.05 L480.02,184.81 L482.07,184.57 L484.13,184.31 L486.18,184.06 L488.24,183.79 L490.29,183.53 L492.35,183.25 L494.40,182.98 L496.45,182.69 L498.51,182.40 L500.56,182.10 L502.62,181.80 L504.67,181.49 L506.73,181.18 L508.78,180.87 L510.84,180.57 L512.89,180.26 L514.95,179.96 L517.00,179.67 L519.05,179.37 L521.11,179.08 L523.16,178.78 L525.22,178.49 L527.27,178.20 L529.33,177.90 L531.38,177.60 L533.44,177.29 L535.49,176.99 L537.55,176.68 L539.60,176.38 L541.65,176.07 L543.71,175.77 L545.76,175.48 L547.82,175.19 L549.87,174.91 L551.93,174.63 L553.98,174.36 L556.04,174.10 L558.09,173.84 L560.15,173.58 L562.20,173.32 L564.25,173.06 L566.31,172.79 L568.36,172.52 L570.42,172.23 L572.47,171.94 L574.53,171.63 L576.58,171.32 L578.64,170.98 L580.69,170.64 L582.75,170.28 L584.80,169.91 L586.85,169.52 L588.91,169.11 L590.96,168.68 L593.02,168.24 L595.07,167.78 L597.13,167.29 L599.18,166.79 L601.24,166.28 L603.29,165.74 L605.34,165.20 L607.40,164.63 L609.45,164.06 L611.51,163.47 L613.56,162.87 L615.62,162.27 L617.67,161.66 L619.73,161.05 L621.78,160.45 L623.84,159.85 L625.89,159.28 L627.94,158.72 L630.00,158.18 L632.05,157.66 L634.11,157.17 L636.16,156.69 L638.22,156.23 L640.27,155.77 L642.33,155.30 L644.38,154.83 L646.44,154.35 L648.49,153.84 L650.54,153.32 L652.60,152.78 L654.65,152.22 L656.71,151.65 L658.76,151.06 L660.82,150.47 L662.87,149.87 L664.93,149.27 L666.98,148.66 L669.04,148.05 L671.09,147.45 L673.14,146.85 L675.20,146.26 L677.25,145.68 L679.31,145.13 L681.36,144.59 L683.42,144.08 L685.47,143.59 L687.53,143.13 L689.58,142.69 L691.64,142.28 L693.69,141.91 L695.74,141.55 L697.80,141.23 L699.85,140.93 L701.91,140.66 L703.96,140.40 L706.02,140.17 L708.07,139.96 L710.13,139.77 L712.18,139.59" fill="none" stroke="#e0306a" stroke-width="1.6" stroke-linejoin="round"/>
<path d="M426.60,182.90 L428.65,182.90 L430.71,182.90 L432.76,182.90 L434.82,182.90 L436.87,182.90 L438.93,182.90 L440.98,182.90 L443.04,182.90 L445.09,182.90 L447.15,182.90 L449.20,182.90 L451.25,182.90 L453.31,182.90 L455.36,182.89 L457.42,182.89 L459.47,182.88 L461.53,182.86 L463.58,182.84 L465.64,182.81 L467.69,182.76 L469.75,182.70 L471.80,182.63 L473.85,182.54 L475.91,182.43 L477.96,182.31 L480.02,182.18 L482.07,182.03 L484.13,181.86 L486.18,181.68 L488.24,181.49 L490.29,181.27 L492.35,181.03 L494.40,180.76 L496.45,180.45 L498.51,180.09 L500.56,179.68 L502.62,179.23 L504.67,178.73 L506.73,178.18 L508.78,177.60 L510.84,176.98 L512.89,176.35 L514.95,175.70 L517.00,175.06 L519.05,174.42 L521.11,173.79 L523.16,173.17 L525.22,172.57 L527.27,171.98 L529.33,171.41 L531.38,170.84 L533.44,170.29 L535.49,169.75 L537.55,169.22 L539.60,168.70 L541.65,168.19 L543.71,167.69 L545.76,167.21 L547.82,166.74 L549.87,166.29 L551.93,165.86 L553.98,165.45 L556.04,165.06 L558.09,164.68 L560.15,164.32 L562.20,163.98 L564.25,163.65 L566.31,163.34 L568.36,163.05 L570.42,162.77 L572.47,162.51 L574.53,162.26 L576.58,162.02 L578.64,161.79 L580.69,161.57 L582.75,161.35 L584.80,161.12 L586.85,160.90 L588.91,160.66 L590.96,160.42 L593.02,160.17 L595.07,159.90 L597.13,159.62 L599.18,159.33 L601.24,159.03 L603.29,158.71 L605.34,158.38 L607.40,158.04 L609.45,157.68 L611.51,157.31 L613.56,156.92 L615.62,156.52 L617.67,156.12 L619.73,155.71 L621.78,155.30 L623.84,154.89 L625.89,154.49 L627.94,154.10 L630.00,153.72 L632.05,153.36 L634.11,153.02 L636.16,152.70 L638.22,152.38 L640.27,152.07 L642.33,151.77 L644.38,151.47 L646.44,151.17 L648.49,150.86 L650.54,150.55 L652.60,150.24 L654.65,149.94 L656.71,149.63 L658.76,149.34 L660.82,149.05 L662.87,148.77 L664.93,148.49 L666.98,148.23 L669.04,147.97 L671.09,147.72 L673.14,147.47 L675.20,147.23 L677.25,146.98 L679.31,146.74 L681.36,146.51 L683.42,146.27 L685.47,146.04 L687.53,145.81 L689.58,145.58 L691.64,145.37 L693.69,145.15 L695.74,144.94 L697.80,144.74 L699.85,144.55 L701.91,144.37 L703.96,144.19 L706.02,144.01 L708.07,143.85 L710.13,143.68 L712.18,143.53" fill="none" stroke="#3f66e0" stroke-width="1.6" stroke-linejoin="round"/>
<text x="570.62" y="222.10" text-anchor="middle" font-family="Liberation Serif" font-weight="bold" font-size="13.3">Prediction Duration (day)</text>
<text x="571.1" y="236.8" text-anchor="middle" font-family="Liberation Serif" font-weight="bold" font-size="13.3">(b) Predicted gap of Max. P<tspan font-size="10" dy="5">ML</tspan></text>
<text transform="translate(400.10,164.9) rotate(-90)" font-family="Liberation Serif" font-weight="bold" font-size="13.2">(km)</text><text transform="translate(401.20,185.2) rotate(-90)" font-family="Liberation Serif" font-style="italic" font-size="16">σ</text><text transform="translate(407.00,176.4) rotate(-90)" font-family="Liberation Serif" font-size="12.5">S</text>
<line x1="433.80" y1="148.6" x2="454.10" y2="148.6" stroke="#1e2530" stroke-width="1.7"/><text x="455.40000000000003" y="154.5" font-family="Liberation Serif" font-weight="bold" font-size="12">e</text><text x="461.20" y="148.80" font-family="Liberation Serif" font-weight="bold" font-size="9.5">gap</text><line x1="479.90" y1="148.6" x2="500.20" y2="148.6" stroke="#e0306a" stroke-width="1.7"/><text x="501.6" y="154.5" font-family="Liberation Serif" font-weight="bold" font-size="12">e</text><text x="507.40" y="148.80" font-family="Liberation Serif" font-weight="bold" font-size="9.5">gap</text><text x="508.00" y="159.30" font-family="Liberation Serif" font-weight="bold" font-size="9.2">RF</text><line x1="526.10" y1="148.6" x2="546.40" y2="148.6" stroke="#3f66e0" stroke-width="1.7"/><text x="547.5" y="154.5" font-family="Liberation Serif" font-weight="bold" font-size="12">e</text><text x="553.30" y="148.80" font-family="Liberation Serif" font-weight="bold" font-size="9.5">gap</text><text x="553.90" y="159.30" font-family="Liberation Serif" font-weight="bold" font-size="9.2">BT</text>
<line x1="48" y1="259" x2="48" y2="318.85" stroke="#ababab" stroke-width="1.1"/>
<line x1="47.45" y1="318" x2="336.20" y2="318" stroke="#c4c4c4" stroke-width="1.7"/>
<line x1="48" y1="259" x2="51.5" y2="259" stroke="#ababab" stroke-width="1.1"/>
<text x="44.8" y="263.20" text-anchor="end" font-family="Liberation Serif" font-weight="bold" font-size="12">0</text>
<line x1="48" y1="288.3" x2="51.5" y2="288.3" stroke="#ababab" stroke-width="1.1"/>
<text x="44.8" y="292.50" text-anchor="end" font-family="Liberation Serif" font-weight="bold" font-size="12">-20</text>
<text x="44.8" y="321.70" text-anchor="end" font-family="Liberation Serif" font-weight="bold" font-size="12">-40</text>
<text x="48.00" y="333.00" text-anchor="middle" font-family="Liberation Serif" font-weight="bold" font-size="12">0</text>
<line x1="89.10" y1="315" x2="89.10" y2="318" stroke="#ababab" stroke-width="1.1"/>
<text x="89.10" y="333.00" text-anchor="middle" font-family="Liberation Serif" font-weight="bold" font-size="12">1</text>
<line x1="130.20" y1="315" x2="130.20" y2="318" stroke="#ababab" stroke-width="1.1"/>
<text x="130.20" y="333.00" text-anchor="middle" font-family="Liberation Serif" font-weight="bold" font-size="12">2</text>
<line x1="171.30" y1="315" x2="171.30" y2="318" stroke="#ababab" stroke-width="1.1"/>
<text x="171.30" y="333.00" text-anchor="middle" font-family="Liberation Serif" font-weight="bold" font-size="12">3</text>
<line x1="212.40" y1="315" x2="212.40" y2="318" stroke="#ababab" stroke-width="1.1"/>
<text x="212.40" y="333.00" text-anchor="middle" font-family="Liberation Serif" font-weight="bold" font-size="12">4</text>
<line x1="253.50" y1="315" x2="253.50" y2="318" stroke="#ababab" stroke-width="1.1"/>
<text x="253.50" y="333.00" text-anchor="middle" font-family="Liberation Serif" font-weight="bold" font-size="12">5</text>
<line x1="294.60" y1="315" x2="294.60" y2="318" stroke="#ababab" stroke-width="1.1"/>
<text x="294.60" y="333.00" text-anchor="middle" font-family="Liberation Serif" font-weight="bold" font-size="12">6</text>
<line x1="335.70" y1="315" x2="335.70" y2="318" stroke="#ababab" stroke-width="1.1"/>
<text x="335.70" y="333.00" text-anchor="middle" font-family="Liberation Serif" font-weight="bold" font-size="12">7</text>
<path d="M48.00,260.48 L50.05,260.52 L52.10,260.55 L54.16,260.59 L56.21,260.64 L58.26,260.69 L60.31,260.74 L62.36,260.80 L64.42,260.86 L66.47,260.93 L68.52,260.99 L70.57,261.06 L72.62,261.12 L74.68,261.19 L76.73,261.26 L78.78,261.33 L80.83,261.40 L82.88,261.48 L84.94,261.55 L86.99,261.63 L89.04,261.70 L91.09,261.78 L93.14,261.86 L95.20,261.94 L97.25,262.02 L99.30,262.11 L101.35,262.19 L103.41,262.28 L105.46,262.37 L107.51,262.47 L109.56,262.57 L111.61,262.68 L113.67,262.79 L115.72,262.91 L117.77,263.04 L119.82,263.18 L121.87,263.33 L123.93,263.48 L125.98,263.65 L128.03,263.83 L130.08,264.02 L132.13,264.22 L134.19,264.43 L136.24,264.65 L138.29,264.88 L140.34,265.13 L142.39,265.38 L144.45,265.64 L146.50,265.90 L148.55,266.18 L150.60,266.45 L152.65,266.73 L154.71,267.01 L156.76,267.28 L158.81,267.55 L160.86,267.81 L162.91,268.06 L164.97,268.31 L167.02,268.55 L169.07,268.78 L171.12,269.01 L173.17,269.23 L175.23,269.44 L177.28,269.65 L179.33,269.85 L181.38,270.04 L183.43,270.23 L185.49,270.42 L187.54,270.60 L189.59,270.79 L191.64,270.98 L193.70,271.18 L195.75,271.38 L197.80,271.60 L199.85,271.83 L201.90,272.07 L203.96,272.32 L206.01,272.58 L208.06,272.86 L210.11,273.14 L212.16,273.43 L214.22,273.72 L216.27,274.01 L218.32,274.31 L220.37,274.60 L222.42,274.90 L224.48,275.19 L226.53,275.49 L228.58,275.79 L230.63,276.10 L232.68,276.41 L234.74,276.72 L236.79,277.04 L238.84,277.37 L240.89,277.70 L242.94,278.04 L245.00,278.38 L247.05,278.72 L249.10,279.06 L251.15,279.40 L253.20,279.74 L255.26,280.09 L257.31,280.43 L259.36,280.77 L261.41,281.12 L263.46,281.47 L265.52,281.84 L267.57,282.21 L269.62,282.60 L271.67,283.00 L273.72,283.41 L275.78,283.84 L277.83,284.29 L279.88,284.74 L281.93,285.21 L283.98,285.69 L286.04,286.17 L288.09,286.66 L290.14,287.15 L292.19,287.63 L294.25,288.12 L296.30,288.59 L298.35,289.05 L300.40,289.49 L302.45,289.92 L304.51,290.33 L306.56,290.71 L308.61,291.07 L310.66,291.40 L312.71,291.70 L314.77,291.98 L316.82,292.22 L318.87,292.44 L320.92,292.63 L322.97,292.80 L325.03,292.94 L327.08,293.06 L329.13,293.16 L331.18,293.24 L333.23,293.30" fill="none" stroke="#e0306a" stroke-width="1.6" stroke-linejoin="round"/>
<path d="M48.00,267.42 L50.05,267.40 L52.10,267.36 L54.16,267.32 L56.21,267.28 L58.26,267.23 L60.31,267.18 L62.36,267.12 L64.42,267.06 L66.47,267.00 L68.52,266.93 L70.57,266.87 L72.62,266.80 L74.68,266.73 L76.73,266.65 L78.78,266.58 L80.83,266.50 L82.88,266.42 L84.94,266.34 L86.99,266.26 L89.04,266.17 L91.09,266.10 L93.14,266.03 L95.20,265.97 L97.25,265.92 L99.30,265.90 L101.35,265.90 L103.41,265.94 L105.46,266.00 L107.51,266.11 L109.56,266.25 L111.61,266.44 L113.67,266.67 L115.72,266.93 L117.77,267.23 L119.82,267.56 L121.87,267.92 L123.93,268.31 L125.98,268.71 L128.03,269.14 L130.08,269.58 L132.13,270.03 L134.19,270.50 L136.24,270.99 L138.29,271.50 L140.34,272.03 L142.39,272.58 L144.45,273.15 L146.50,273.74 L148.55,274.33 L150.60,274.92 L152.65,275.50 L154.71,276.07 L156.76,276.62 L158.81,277.15 L160.86,277.64 L162.91,278.11 L164.97,278.55 L167.02,278.96 L169.07,279.34 L171.12,279.71 L173.17,280.05 L175.23,280.38 L177.28,280.70 L179.33,281.00 L181.38,281.30 L183.43,281.58 L185.49,281.84 L187.54,282.09 L189.59,282.33 L191.64,282.54 L193.70,282.74 L195.75,282.90 L197.80,283.05 L199.85,283.17 L201.90,283.28 L203.96,283.37 L206.01,283.45 L208.06,283.52 L210.11,283.60 L212.16,283.70 L214.22,283.80 L216.27,283.93 L218.32,284.09 L220.37,284.27 L222.42,284.48 L224.48,284.72 L226.53,284.98 L228.58,285.26 L230.63,285.56 L232.68,285.88 L234.74,286.20 L236.79,286.53 L238.84,286.87 L240.89,287.20 L242.94,287.54 L245.00,287.87 L247.05,288.18 L249.10,288.49 L251.15,288.78 L253.20,289.06 L255.26,289.31 L257.31,289.55 L259.36,289.76 L261.41,289.96 L263.46,290.15 L265.52,290.32 L267.57,290.47 L269.62,290.62 L271.67,290.76 L273.72,290.89 L275.78,291.02 L277.83,291.14 L279.88,291.26 L281.93,291.37 L283.98,291.48 L286.04,291.59 L288.09,291.70 L290.14,291.80 L292.19,291.91 L294.25,292.01 L296.30,292.12 L298.35,292.22 L300.40,292.32 L302.45,292.42 L304.51,292.52 L306.56,292.63 L308.61,292.73 L310.66,292.84 L312.71,292.94 L314.77,293.05 L316.82,293.17 L318.87,293.29 L320.92,293.41 L322.97,293.53 L325.03,293.66 L327.08,293.80 L329.13,293.93 L331.18,294.07 L333.23,294.21" fill="none" stroke="#3f66e0" stroke-width="1.6" stroke-linejoin="round"/>
<text x="191.85" y="348.80" text-anchor="middle" font-family="Liberation Serif" font-weight="bold" font-size="13.3">Prediction Duration (day)</text>
<text x="192.4" y="363.6" text-anchor="middle" font-family="Liberation Serif" font-weight="bold" font-size="13.3">(c) Residual error of Min. P<tspan font-size="10" dy="5">ML</tspan></text>
<text transform="translate(23.5,288) rotate(-90)" text-anchor="middle" font-family="Liberation Serif" font-weight="bold" font-size="13.5">Residual (km)</text>
<line x1="55.60" y1="300.8" x2="75.20" y2="300.8" stroke="#e0306a" stroke-width="1.7"/><text x="76.9" y="304.7" font-family="Liberation Serif" font-weight="bold" font-size="12">e</text><text x="82.70" y="299.00" font-family="Liberation Serif" font-weight="bold" font-size="9.5">gap</text><text x="100.60" y="304.7" font-family="Liberation Serif" font-weight="bold" font-size="12">-</text><text x="107.5" y="304.7" font-family="Liberation Serif" font-weight="bold" font-size="12">e</text><text x="113.30" y="299.00" font-family="Liberation Serif" font-weight="bold" font-size="9.5">gap</text><text x="113.90" y="309.50" font-family="Liberation Serif" font-weight="bold" font-size="9.2">RF</text><line x1="132.50" y1="300.8" x2="151.40" y2="300.8" stroke="#3f66e0" stroke-width="1.7"/><text x="153.3" y="304.7" font-family="Liberation Serif" font-weight="bold" font-size="12">e</text><text x="159.10" y="299.00" font-family="Liberation Serif" font-weight="bold" font-size="9.5">gap</text><text x="177.00" y="304.7" font-family="Liberation Serif" font-weight="bold" font-size="12">-</text><text x="183.9" y="304.7" font-family="Liberation Serif" font-weight="bold" font-size="12">e</text><text x="189.70" y="299.00" font-family="Liberation Serif" font-weight="bold" font-size="9.5">gap</text><text x="190.30" y="309.50" font-family="Liberation Serif" font-weight="bold" font-size="9.2">BT</text>
<line x1="426.6" y1="259" x2="426.6" y2="318.85" stroke="#ababab" stroke-width="1.1"/>
<line x1="426.05" y1="318" x2="715.15" y2="318" stroke="#c4c4c4" stroke-width="1.7"/>
<line x1="426.6" y1="259" x2="430.1" y2="259" stroke="#ababab" stroke-width="1.1"/>
<text x="423.40000000000003" y="263.20" text-anchor="end" font-family="Liberation Serif" font-weight="bold" font-size="12">0</text>
<line x1="426.6" y1="288.3" x2="430.1" y2="288.3" stroke="#ababab" stroke-width="1.1"/>
<text x="423.40000000000003" y="292.50" text-anchor="end" font-family="Liberation Serif" font-weight="bold" font-size="12">-20</text>
<text x="423.40000000000003" y="321.70" text-anchor="end" font-family="Liberation Serif" font-weight="bold" font-size="12">-40</text>
<text x="426.60" y="333.00" text-anchor="middle" font-family="Liberation Serif" font-weight="bold" font-size="12">0</text>
<line x1="467.75" y1="315" x2="467.75" y2="318" stroke="#ababab" stroke-width="1.1"/>
<text x="467.75" y="333.00" text-anchor="middle" font-family="Liberation Serif" font-weight="bold" font-size="12">1</text>
<line x1="508.90" y1="315" x2="508.90" y2="318" stroke="#ababab" stroke-width="1.1"/>
<text x="508.90" y="333.00" text-anchor="middle" font-family="Liberation Serif" font-weight="bold" font-size="12">2</text>
<line x1="550.05" y1="315" x2="550.05" y2="318" stroke="#ababab" stroke-width="1.1"/>
<text x="550.05" y="333.00" text-anchor="middle" font-family="Liberation Serif" font-weight="bold" font-size="12">3</text>
<line x1="591.20" y1="315" x2="591.20" y2="318" stroke="#ababab" stroke-width="1.1"/>
<text x="591.20" y="333.00" text-anchor="middle" font-family="Liberation Serif" font-weight="bold" font-size="12">4</text>
<line x1="632.35" y1="315" x2="632.35" y2="318" stroke="#ababab" stroke-width="1.1"/>
<text x="632.35" y="333.00" text-anchor="middle" font-family="Liberation Serif" font-weight="bold" font-size="12">5</text>
<line x1="673.50" y1="315" x2="673.50" y2="318" stroke="#ababab" stroke-width="1.1"/>
<text x="673.50" y="333.00" text-anchor="middle" font-family="Liberation Serif" font-weight="bold" font-size="12">6</text>
<line x1="714.65" y1="315" x2="714.65" y2="318" stroke="#ababab" stroke-width="1.1"/>
<text x="714.65" y="333.00" text-anchor="middle" font-family="Liberation Serif" font-weight="bold" font-size="12">7</text>
<path d="M426.60,261.44 L428.65,261.45 L430.71,261.48 L432.76,261.50 L434.82,261.54 L436.87,261.58 L438.93,261.62 L440.98,261.68 L443.04,261.74 L445.09,261.80 L447.15,261.87 L449.20,261.95 L451.25,262.03 L453.31,262.12 L455.36,262.21 L457.42,262.31 L459.47,262.41 L461.53,262.51 L463.58,262.62 L465.64,262.74 L467.69,262.87 L469.75,263.01 L471.80,263.16 L473.85,263.32 L475.91,263.50 L477.96,263.70 L480.02,263.92 L482.07,264.16 L484.13,264.43 L486.18,264.73 L488.24,265.06 L490.29,265.41 L492.35,265.79 L494.40,266.19 L496.45,266.60 L498.51,267.03 L500.56,267.45 L502.62,267.88 L504.67,268.29 L506.73,268.70 L508.78,269.10 L510.84,269.48 L512.89,269.86 L514.95,270.22 L517.00,270.58 L519.05,270.94 L521.11,271.30 L523.16,271.65 L525.22,272.00 L527.27,272.35 L529.33,272.69 L531.38,273.04 L533.44,273.38 L535.49,273.71 L537.55,274.04 L539.60,274.37 L541.65,274.69 L543.71,275.01 L545.76,275.31 L547.82,275.61 L549.87,275.89 L551.93,276.17 L553.98,276.43 L556.04,276.68 L558.09,276.91 L560.15,277.12 L562.20,277.33 L564.25,277.52 L566.31,277.71 L568.36,277.89 L570.42,278.08 L572.47,278.28 L574.53,278.49 L576.58,278.72 L578.64,278.96 L580.69,279.23 L582.75,279.52 L584.80,279.84 L586.85,280.17 L588.91,280.52 L590.96,280.90 L593.02,281.29 L595.07,281.70 L597.13,282.13 L599.18,282.58 L601.24,283.04 L603.29,283.52 L605.34,284.02 L607.40,284.53 L609.45,285.06 L611.51,285.59 L613.56,286.15 L615.62,286.71 L617.67,287.28 L619.73,287.87 L621.78,288.47 L623.84,289.07 L625.89,289.69 L627.94,290.31 L630.00,290.95 L632.05,291.59 L634.11,292.24 L636.16,292.89 L638.22,293.55 L640.27,294.21 L642.33,294.87 L644.38,295.52 L646.44,296.18 L648.49,296.82 L650.54,297.46 L652.60,298.09 L654.65,298.71 L656.71,299.33 L658.76,299.95 L660.82,300.56 L662.87,301.17 L664.93,301.78 L666.98,302.39 L669.04,303.00 L671.09,303.60 L673.14,304.21 L675.20,304.81 L677.25,305.40 L679.31,305.99 L681.36,306.57 L683.42,307.13 L685.47,307.68 L687.53,308.21 L689.58,308.71 L691.64,309.19 L693.69,309.64 L695.74,310.06 L697.80,310.45 L699.85,310.80 L701.91,311.13 L703.96,311.43 L706.02,311.70 L708.07,311.95 L710.13,312.18 L712.18,312.39" fill="none" stroke="#e0306a" stroke-width="1.6" stroke-linejoin="round"/>
<path d="M426.60,268.45 L428.65,268.41 L430.71,268.35 L432.76,268.30 L434.82,268.24 L436.87,268.18 L438.93,268.13 L440.98,268.07 L443.04,268.03 L445.09,267.98 L447.15,267.95 L449.20,267.92 L451.25,267.89 L453.31,267.87 L455.36,267.86 L457.42,267.85 L459.47,267.84 L461.53,267.84 L463.58,267.85 L465.64,267.87 L467.69,267.90 L469.75,267.94 L471.80,268.00 L473.85,268.07 L475.91,268.15 L477.96,268.25 L480.02,268.37 L482.07,268.51 L484.13,268.68 L486.18,268.86 L488.24,269.07 L490.29,269.31 L492.35,269.57 L494.40,269.87 L496.45,270.21 L498.51,270.58 L500.56,270.98 L502.62,271.42 L504.67,271.89 L506.73,272.40 L508.78,272.94 L510.84,273.50 L512.89,274.09 L514.95,274.71 L517.00,275.33 L519.05,275.98 L521.11,276.63 L523.16,277.29 L525.22,277.95 L527.27,278.62 L529.33,279.28 L531.38,279.94 L533.44,280.58 L535.49,281.21 L537.55,281.82 L539.60,282.41 L541.65,282.98 L543.71,283.52 L545.76,284.04 L547.82,284.54 L549.87,285.02 L551.93,285.48 L553.98,285.93 L556.04,286.35 L558.09,286.77 L560.15,287.16 L562.20,287.55 L564.25,287.91 L566.31,288.26 L568.36,288.60 L570.42,288.91 L572.47,289.21 L574.53,289.49 L576.58,289.75 L578.64,290.00 L580.69,290.23 L582.75,290.45 L584.80,290.67 L586.85,290.88 L588.91,291.08 L590.96,291.29 L593.02,291.51 L595.07,291.73 L597.13,291.96 L599.18,292.20 L601.24,292.46 L603.29,292.72 L605.34,293.00 L607.40,293.29 L609.45,293.59 L611.51,293.90 L613.56,294.22 L615.62,294.56 L617.67,294.91 L619.73,295.27 L621.78,295.64 L623.84,296.02 L625.89,296.41 L627.94,296.80 L630.00,297.21 L632.05,297.62 L634.11,298.02 L636.16,298.43 L638.22,298.83 L640.27,299.23 L642.33,299.61 L644.38,299.97 L646.44,300.32 L648.49,300.64 L650.54,300.94 L652.60,301.21 L654.65,301.47 L656.71,301.70 L658.76,301.93 L660.82,302.14 L662.87,302.34 L664.93,302.54 L666.98,302.74 L669.04,302.93 L671.09,303.12 L673.14,303.32 L675.20,303.52 L677.25,303.71 L679.31,303.92 L681.36,304.12 L683.42,304.33 L685.47,304.54 L687.53,304.75 L689.58,304.96 L691.64,305.18 L693.69,305.40 L695.74,305.62 L697.80,305.84 L699.85,306.06 L701.91,306.28 L703.96,306.51 L706.02,306.73 L708.07,306.95 L710.13,307.18 L712.18,307.40" fill="none" stroke="#3f66e0" stroke-width="1.6" stroke-linejoin="round"/>
<text x="570.62" y="348.80" text-anchor="middle" font-family="Liberation Serif" font-weight="bold" font-size="13.3">Prediction Duration (day)</text>
<text x="571" y="363.3" text-anchor="middle" font-family="Liberation Serif" font-weight="bold" font-size="13.3">(d) Residual error of  Max. P<tspan font-size="10" dy="5">ML</tspan></text>
<text transform="translate(402,288) rotate(-90)" text-anchor="middle" font-family="Liberation Serif" font-weight="bold" font-size="13.5">Residual (km)</text>
<line x1="434.20" y1="304.0" x2="453.80" y2="304.0" stroke="#e0306a" stroke-width="1.7"/><text x="455.5" y="307.9" font-family="Liberation Serif" font-weight="bold" font-size="12">e</text><text x="461.30" y="302.20" font-family="Liberation Serif" font-weight="bold" font-size="9.5">gap</text><text x="479.20" y="307.9" font-family="Liberation Serif" font-weight="bold" font-size="12">-</text><text x="486.1" y="307.9" font-family="Liberation Serif" font-weight="bold" font-size="12">e</text><text x="491.90" y="302.20" font-family="Liberation Serif" font-weight="bold" font-size="9.5">gap</text><text x="492.50" y="312.70" font-family="Liberation Serif" font-weight="bold" font-size="9.2">RF</text><line x1="511.10" y1="304.0" x2="530.00" y2="304.0" stroke="#3f66e0" stroke-width="1.7"/><text x="531.9000000000001" y="307.9" font-family="Liberation Serif" font-weight="bold" font-size="12">e</text><text x="537.70" y="302.20" font-family="Liberation Serif" font-weight="bold" font-size="9.5">gap</text><text x="555.60" y="307.9" font-family="Liberation Serif" font-weight="bold" font-size="12">-</text><text x="562.5" y="307.9" font-family="Liberation Serif" font-weight="bold" font-size="12">e</text><text x="568.30" y="302.20" font-family="Liberation Serif" font-weight="bold" font-size="9.5">gap</text><text x="568.90" y="312.70" font-family="Liberation Serif" font-weight="bold" font-size="9.2">BT</text></svg>
</body></html>
